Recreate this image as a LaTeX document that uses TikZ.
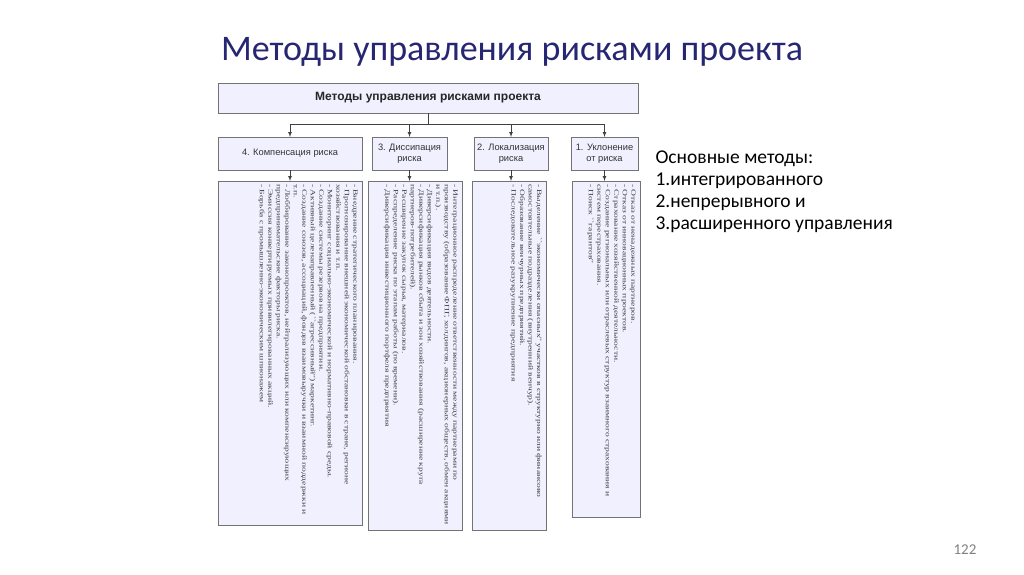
\documentclass[tikz,border=0pt]{standalone}
\usepackage{fontspec}
\setmainfont{Liberation Serif}
\newfontfamily\calfnt{Carlito}
\newfontfamily\ars{Liberation Sans}
\newfontfamily\strfnt[FakeStretch=1.45]{Liberation Serif}
\begin{document}
\begin{tikzpicture}[x=1pt,y=-1pt,
  bx/.style={draw=black!55,fill=blue!6!white,line width=0.8pt},
  hd/.style={font=\ars\fontsize{9.3}{11}\selectfont,align=center,text=black!80},
  lst/.style={rotate=-90,anchor=north west,inner sep=0pt,align=left,text=black!75,font=\strfnt\fontsize{6.6}{8.5}\selectfont},
  ar/.style={-latex,line width=0.7pt,draw=black!75}]
\useasboundingbox (0,0) rectangle (1024,574);
\node[font=\calfnt\fontsize{36}{40}\selectfont,text=blue!35!black!85] (title) at (512,52) {Методы управления рисками проекта};
\draw[bx] (218,83) rectangle (638,113);
\node[font=\ars\bfseries\fontsize{12}{14}\selectfont,text=black!85] (top) at (428,98) {Методы управления рисками проекта};
\foreach \n/\a/\b in {k/218/362,d/372/447,l/474/548,u/571/638}{
  \draw[bx] (\a,137) rectangle (\b,170);
  \coordinate (\n) at ({(\a+\b)/2},137);
  \coordinate (\n2) at ({(\a+\b)/2},170);
  \coordinate (\n3) at ({(\a+\b)/2},181);
}
\node[hd] at (290,153.5) {4. Компенсация риска};
\node[hd] at (409.5,153.5) {3. Диссипация\\риска};
\node[hd] at (511,153.5) {2. Локализация\\риска};
\node[hd] at (604.5,153.5) {1. Уклонение\\от риска};
\coordinate (tb) at (428,113);
\coordinate (hl) at (428,124);
\draw[line width=0.7pt,draw=black!75] (tb) -- (hl);
\draw[line width=0.7pt,draw=black!75] (k|-hl) -- (u|-hl);
\foreach \n in {k,d,l,u}{\draw[ar] (\n|-hl) -- (\n); \draw[ar] (\n2) -- (\n3);}
\draw[bx] (218,181) rectangle (362,525);
\draw[bx] (368,181) rectangle (462,530);
\draw[bx] (472,181) rectangle (546,530);
\draw[bx] (572,181) rectangle (640,517);
\node[lst,text width=340pt] at (358,184) {- Внедрение стратегического планирования.\\- Прогнозирование внешней экономической обстановки в стране, регионе хозяйствования и т.п.\\- Мониторинг социально-экономической и нормативно-правовой среды.\\- Создание системы резервов на предприятии.\\- Активный целенаправленный (``агрессивный'') маркетинг.\\- Создание союзов, ассоциаций, фондов взаимовыручки и взаимной поддержки и т.п.\\- Лоббирование законопроектов, нейтрализующих или компенсирующих предпринимательские факторы риска.\\- Эмиссия конвертируемых привилегированных акций.\\- Борьба с промышленно-экономическим шпионажем};
\node[lst,text width=342pt] at (458,184) {- Интеграционное распределение ответственности между партнерами по производству (образование ФПГ, холдингов, акционерных обществ, обмен акциями и т.п.).\\- Диверсификация видов деятельности.\\- Диверсификация рынков сбыта и зон хозяйствования (расширение круга партнеров-потребителей).\\- Расширение закупок сырья, материалов.\\- Распределение риска по этапам работы (по времени).\\- Диверсификация инвестиционного портфеля предприятия};
\node[lst,text width=342pt] at (542,184) {- Выделение ``экономически опасных'' участков в структурно или финансово самостоятельные подразделения (внутренний венчур).\\- Образование венчурных предприятий.\\- Последовательное разукрупнение предприятия};
\node[lst,text width=328pt] at (636,184) {- Отказ от ненадежных партнеров.\\- Отказ от инновационных проектов.\\- Страхование хозяйственной деятельности.\\- Создание региональных или отраслевых структур взаимного страхования и систем перестрахования.\\- Поиск ``гарантов''};
\node[font=\calfnt\fontsize{19.5}{22}\selectfont,anchor=north west,align=left] (side) at (652,147) {Основные методы:\\1.интегрированного\\2.непрерывного и\\3.расширенного управления};
\node[font=\calfnt\fontsize{15}{16}\selectfont,text=black!50] (pg) at (965,550) {122};
\end{tikzpicture}
\end{document}
